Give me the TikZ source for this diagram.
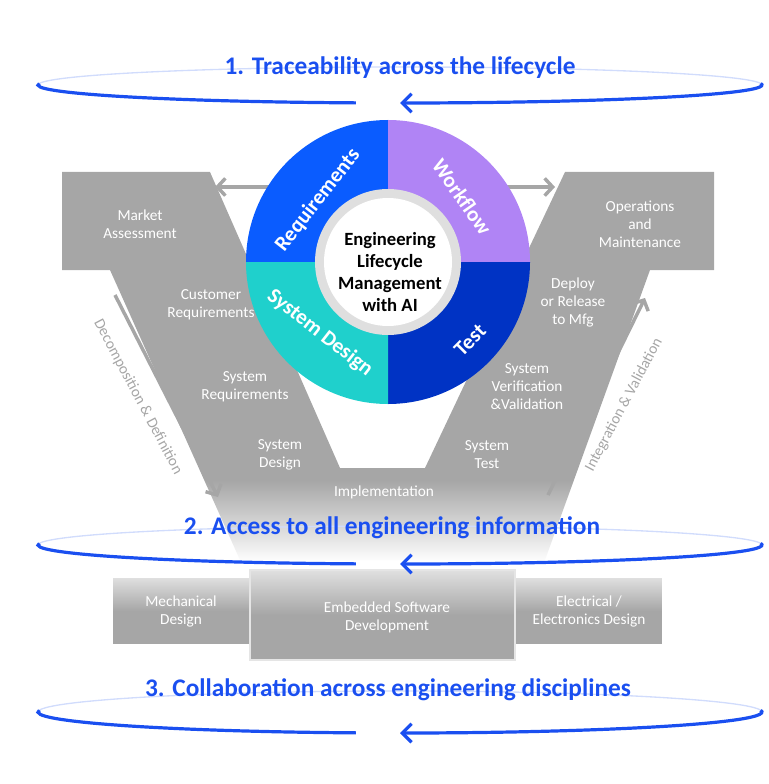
\documentclass[tikz,border=0pt]{standalone}
\usepackage{fontspec}
\setmainfont{Carlito}
\usetikzlibrary{arrows.meta,fadings}
\definecolor{vgray}{HTML}{A6A6A6}
\definecolor{tblue}{HTML}{1A4FF0}
\definecolor{qreq}{HTML}{0A5CFF}
\definecolor{qwf}{HTML}{B084F5}
\definecolor{qsd}{HTML}{1FD0CC}
\definecolor{qtest}{HTML}{0033C4}
\tikzset{
  vlab/.style={text=white,font=\fontsize{11.5}{13.5}\selectfont,align=center},
  qlab/.style={text=white,font=\fontsize{16}{18}\selectfont\bfseries},
  title/.style={text=tblue,font=\fontsize{19}{22}\selectfont\bfseries,inner sep=1pt},
  loopfront/.style={draw=tblue,line width=2.4pt},
  loop/.style={loopfront,-{Straight Barb[length=7pt,width=14pt,line width=2.4pt]}},
  loopback/.style={draw=tblue!20,line width=1pt},
  garrow/.style={draw=vgray,line width=2.6pt,-{Straight Barb[length=6pt,width=13pt,line width=2.6pt]}},
  glab/.style={text=vgray,font=\fontsize{11.5}{13}\selectfont},
  disc/.style={draw=white,line width=0.6pt,shade,top color=vgray!35,bottom color=vgray,middle color=vgray}
}
\newcommand\lifeloop[3]{%
  \draw[loopback] (#1) ++(180:#2 and #3) arc[start angle=180,end angle=360,x radius=#2,y radius=#3];
  \draw[loopfront] (#1) ++(97:#2 and #3) arc[start angle=97,end angle=185,x radius=#2,y radius=#3];
  \draw[loop] (#1) ++(355:#2 and #3) arc[start angle=355,end angle=450,x radius=#2,y radius=#3];
}
\begin{document}
\begin{tikzpicture}[x=0.75pt,y=-0.75pt]
\useasboundingbox (0,0) rectangle (768,784);
% V shape
\fill[vgray] (62,172) -- (210,172) -- (340,468) -- (425,468) -- (565,172) -- (714,172) -- (714,270) -- (650,270) -- (545,560) -- (240,560) -- (110,270) -- (62,270) -- cycle;
\fill[white,path fading=north] (200,480) rectangle (580,562);
% V labels
\node[vlab] (ma) at (140,224) {Market\\Assessment};
\node[vlab] (cr) at (211,305) {Customer\\Requirements};
\node[vlab] (sr) at (245,387) {System\\Requirements};
\node[vlab] (sd) at (280,455) {System\\Design};
\node[vlab] (im) at (384,492) {Implementation};
\node[vlab] (st) at (487,455) {System\\Test};
\node[vlab] (vv) at (527,387) {System\\Verification\\\&Validation};
\node[vlab] (dr) at (573,302) {Deploy\\or Release\\to Mfg};
\node[vlab] (om) at (640,224) {Operations\\and\\Maintenance};
% diagonal arrows
\coordinate (la1) at (115,295); \coordinate (la2) at (218,497);
\coordinate (ra1) at (548,495); \coordinate (ra2) at (645,298);
\draw[garrow] (la1) -- (la2);
\draw[garrow] (ra1) -- (ra2);
\node[glab,rotate=-62] (dd) at (138,397) {Decomposition \& Definition};
\node[glab,rotate=62] (iv) at (624,405) {Integration \& Validation};
% horizontal gray arrows
\coordinate (c) at (388,262);
\coordinate (hl) at (215,187); \coordinate (hr) at (555,187);
\draw[garrow] (300,187) -- (hl);
\draw[garrow] (480,187) -- (hr);
% circle quadrants
\fill[qreq] (c) -- ++(180:142) arc[start angle=180,end angle=270,radius=142] -- cycle;
\fill[qwf] (c) -- ++(270:142) arc[start angle=270,end angle=360,radius=142] -- cycle;
\fill[qtest] (c) -- ++(0:142) arc[start angle=0,end angle=90,radius=142] -- cycle;
\fill[qsd] (c) -- ++(90:142) arc[start angle=90,end angle=180,radius=142] -- cycle;
\fill[gray!25] (c) circle[radius=73];
\fill[white] (c) circle[radius=64];
\node[align=center,font=\fontsize{14}{16.5}\selectfont\bfseries] (ctr) at (390,272) {Engineering\\Lifecycle\\Management\\with AI};
\node[qlab,rotate=52] (q1) at (318,200) {Requirements};
\node[qlab,rotate=-55] (q2) at (462,197) {Workflow};
\node[qlab,rotate=-38] (q3) at (320,333) {System Design};
\node[qlab,rotate=45] (q4) at (470,340) {Test};
% ellipse 1
\coordinate (e1) at (400,85);
\lifeloop{e1}{362}{18}
\node[title] (t1) at (400,68) {1. Traceability across the lifecycle};
% bottom boxes
\node[disc,minimum width=138*0.75pt,minimum height=67*0.75pt,vlab] (mech) at (181,611) {Mechanical\\Design};
\node[disc,minimum width=147*0.75pt,minimum height=67*0.75pt,vlab] (elec) at (589,611) {Electrical /\\Electronics Design};
\node[disc,draw=gray!20,line width=1.5pt,minimum width=265*0.75pt,minimum height=90*0.75pt] (emb) at (382,615) {};
\node[vlab] (embt) at (387,617) {Embedded Software\\Development};
% ellipse 2
\coordinate (e2) at (400,545);
\lifeloop{e2}{362}{19}
\node[title] (t2) at (392,528) {2. Access to all engineering information};
% ellipse 3
\coordinate (e3) at (400,712);
\lifeloop{e3}{362}{21}
\node[title] (t3) at (388,690) {3. Collaboration across engineering disciplines};
\end{tikzpicture}
\end{document}
